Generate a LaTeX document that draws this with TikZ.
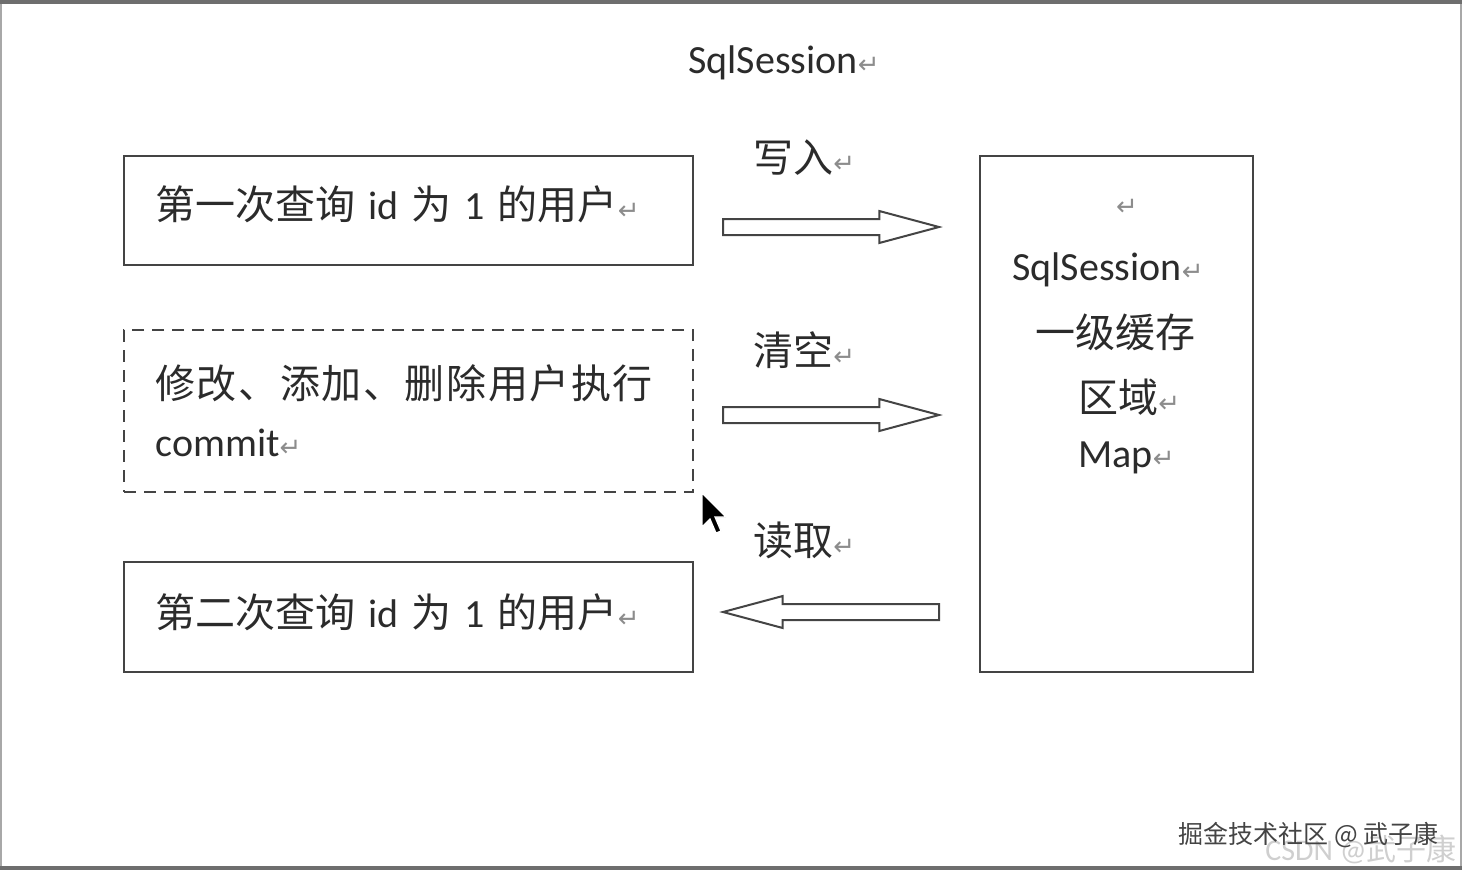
\documentclass[tikz,border=0pt]{standalone}
\usepackage{fontspec}
\setmainfont{Carlito}
\newfontfamily\cjk{Noto Sans CJK SC}
\newfontfamily\markfont{DejaVu Sans}
\usepackage{xcolor}
\definecolor{framegray}{HTML}{6E6E6E}
\definecolor{linegray}{HTML}{444444}
\definecolor{inkgray}{HTML}{2B2B2B}
\definecolor{markgray}{HTML}{8C8C8C}
\definecolor{wmlight}{HTML}{CFCFCF}
\usetikzlibrary{positioning,shapes.arrows}
\newcommand{\pmark}{{\markfont\fontsize{13}{13}\selectfont\color{markgray}↵}}
\newcommand{\bigtxt}{\fontsize{20}{30}\selectfont}
\newcommand{\wgap}{\hspace{6.5pt}}

\begin{document}
\begin{tikzpicture}[x=0.5pt,y=-0.5pt,
    txt/.style={font=\bigtxt,text=inkgray,inner sep=0pt,anchor=west},
    box/.style={draw=linegray,line width=1pt,minimum width=284.5pt},
    blockarrow/.style={single arrow,draw=linegray,fill=white,line width=1pt,
      minimum height=108pt,inner xsep=0pt,inner ysep=3.5pt,text height=0pt,
      text depth=0pt,single arrow head extend=4pt,single arrow head indent=0pt,
      single arrow tip angle=30,anchor=tail}]
  \useasboundingbox (0,0) rectangle (1462,874);
  % Frame of the screenshot
  \draw[framegray!60,line width=1pt] (1,2) -- (1,868);
  \draw[framegray!60,line width=1pt] (1461,2) -- (1461,868);
  \draw[framegray,line width=2pt] (0,2) -- (1462,2);
  \draw[framegray,line width=2pt] (0,868) -- (1462,868);
  % Title
  \node[txt] (title) at (688,63) {SqlSession\pmark};
  % Left boxes
  \node[box,minimum height=54.5pt] (first) at (408.5,210.5) {};
  \node[box,dashed,dash pattern=on 6pt off 4pt,minimum height=81pt] (change) at (408.5,411) {};
  \node[box,minimum height=55pt] (second) at (408.5,617) {};
  \node[txt] (firsttxt) at (155,204)
    {{\cjk 第一次查询}\wgap id\wgap{\cjk 为}\wgap 1\wgap{\cjk 的用户}\pmark};
  \node[txt] (changetxt) at (155,383) {\cjk\addfontfeatures{LetterSpace=4}修改、添加、删除用户执行};
  \node[txt] (committxt) at (155,443) {commit\pmark};
  \node[txt] (secondtxt) at (155,612)
    {{\cjk 第二次查询}\wgap id\wgap{\cjk 为}\wgap 1\wgap{\cjk 的用户}\pmark};
  % Cache box
  \node[draw=linegray,line width=1pt,minimum width=136.5pt,minimum height=258pt]
    (cache) at (1116.5,414) {};
  \node[inner sep=0pt] (cachemark) at (1127,207) {\pmark};
  \node[txt] (cachename) at (1012,270) {SqlSession\pmark};
  \node[txt] (cachelevel) at (1035,332) {\cjk 一级缓存};
  \node[txt] (cachearea) at (1078,397) {{\cjk 区域}\pmark};
  \node[txt] (cachemap) at (1078,458) {Map\pmark};
  % Block arrows and their labels
  \node[blockarrow] (write) at (722,227) {};
  \node[blockarrow] (clear) at (722,415) {};
  \node[blockarrow,shape border rotate=180] (read) at (940,612) {};
  \node[txt] (writelbl) at (753,158) {{\cjk 写入}\pmark};
  \node[txt] (clearlbl) at (753,350) {{\cjk 清空}\pmark};
  \node[txt] (readlbl) at (753,540) {{\cjk 读取}\pmark};
  % Mouse cursor
  \fill[black,draw=white,line width=0.6pt] (702,493) -- (702,527) -- (710,519)
    -- (716,533) -- (721,531) -- (715,517) -- (726,517) -- cycle;
  % Watermarks
  \node[anchor=west,inner sep=0pt,text=wmlight,font=\fontsize{15}{15}\selectfont]
    (csdn) at (1265,849) {CSDN @{\cjk 武子康}};
  \node[anchor=west,inner sep=0pt,text=linegray,font=\cjk\fontsize{12.5}{12.5}\selectfont]
    (juejin) at (1178,835) {掘金技术社区 @ 武子康};
\end{tikzpicture}
\end{document}
